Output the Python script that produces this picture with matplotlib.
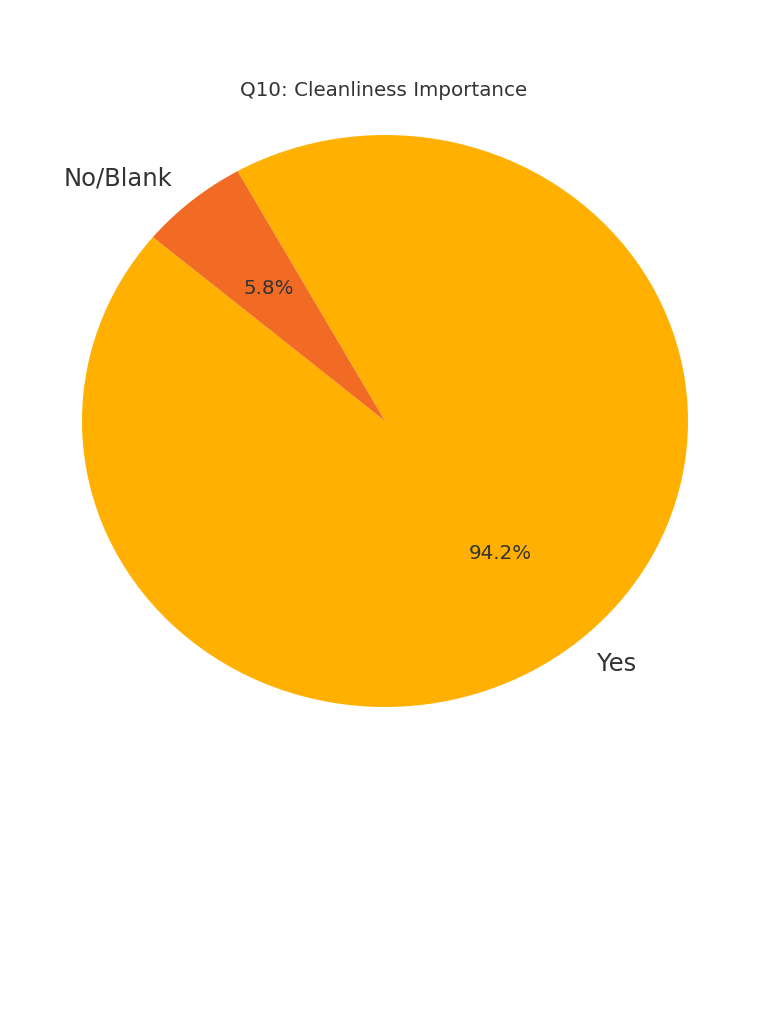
import matplotlib
matplotlib.use("Agg")
import matplotlib.pyplot as plt

# Q10 answers
labels = ["Yes", "No/Blank"]
shares = [94.2, 5.8]
colors = ["#FFB000", "#F26B25"]

fig = plt.figure(figsize=(7.68, 10.24), dpi=100)
# pie is drawn slightly squashed, so no equal aspect
ax = fig.add_axes([82 / 768, (1024 - 707) / 1024, 606 / 768, 572 / 1024])

wedges, texts, autotexts = ax.pie(shares, labels=labels, colors=colors,
                                  autopct="%1.1f%%", startangle=140,
                                  textprops={"color": "#333333"})
for t in texts:
    t.set_fontsize(17.5)
for t in autotexts:
    t.set_fontsize(14.3)

ax.set_aspect("auto")
ax.set_xlim(-1, 1)
ax.set_ylim(-1, 1)
fig.text(0.5, 1 - 91 / 1024, "Q10: Cleanliness Importance", ha="center",
         va="center", fontsize=14.3, color="#333333")

fig.savefig("out.png", dpi=100)
